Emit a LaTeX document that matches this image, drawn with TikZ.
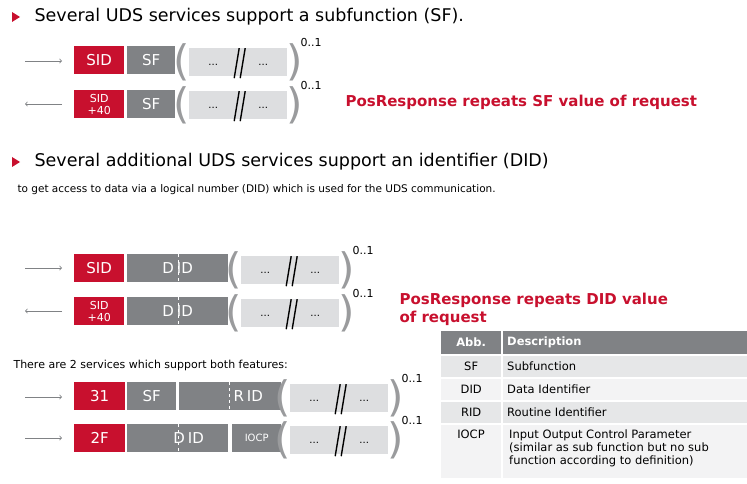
\documentclass[tikz,border=0pt]{standalone}
\usepackage{fontspec}
\setmainfont{DejaVu Sans}
\begin{document}
\definecolor{vred}{HTML}{C8102E}
\definecolor{vgrey}{HTML}{808285}
\definecolor{vlight}{HTML}{DDDEE0}
\definecolor{tgrey}{HTML}{E6E7E8}
\definecolor{tlight}{HTML}{F3F3F4}
\begin{tikzpicture}[x=1pt,y=-1pt,
 rbox/.style={fill=vred,text=white,inner sep=0,minimum height=28,font=\fontsize{15}{15}\selectfont,anchor=north west},
 gr/.style={fill=vgrey,text=white,inner sep=0,minimum height=28,font=\fontsize{15}{15}\selectfont,anchor=north west},
 lt/.style={fill=vlight,inner sep=0,minimum width=98,minimum height=28,anchor=north west},
 par/.style={font=\fontsize{42}{42}\selectfont,text=vgrey!80,inner sep=0},
 arr/.style={draw=vgrey,->,line width=0.8},
 rng/.style={font=\fontsize{11}{11}\selectfont,inner sep=0,anchor=west},
 wdash/.style={draw=white,dashed,line width=0.8},
 tcell/.style={inner sep=0,anchor=north west,minimum height=21},
 tt/.style={font=\fontsize{11.5}{13}\selectfont}]
\useasboundingbox (0,0) rectangle (747,484);
% bullets
\fill[vred] (12,12) -- (20,17) -- (12,22) -- cycle;
\node[anchor=west,font=\fontsize{17.5}{17.5}\selectfont] (h1) at (31,17) {Several UDS services support a subfunction (SF).};
\fill[vred] (12,157) -- (20,162) -- (12,167) -- cycle;
\node[anchor=west,font=\fontsize{17.5}{17.5}\selectfont] (h2) at (31,162) {Several additional UDS services support an identifier (DID)};
\node[anchor=west,font=\fontsize{10.5}{10.5}\selectfont] (h3) at (14,190) {to get access to data via a logical number (DID) which is used for the UDS communication.};
\newcommand\optpart[3]{% x, y, name
 \node[lt] (#3) at (#1,#2) {};
 \node[font=\normalsize] at ([xshift=-25,yshift=-3]#3.center) {...};
 \node[font=\normalsize] at ([xshift=25,yshift=-3]#3.center) {...};
 \draw[line width=1.4] ([xshift=1,yshift=14]#3.center) -- ([xshift=-4,yshift=-16]#3.center);
 \draw[line width=1.4] ([xshift=7,yshift=14]#3.center) -- ([xshift=2,yshift=-16]#3.center);
 \node[par,anchor=east] at ([xshift=1]#3.west) {(};
 \node[par,anchor=west] at ([xshift=-1]#3.east) {)};
 \node[rng] at ([xshift=13,yshift=6]#3.north east) {0..1};
}
% row 1
\coordinate (a1s) at (25,61); \coordinate (a1e) at (62,61);
\draw[arr] (a1s) -- (a1e);
\node[rbox,minimum width=50] (r1) at (74,46) {SID};
\node[gr,minimum width=48] (g1) at (127,46) {SF};
\optpart{189}{48}{o1}
% row 2
\coordinate (a2s) at (62,104); \coordinate (a2e) at (25,104);
\draw[arr] (a2s) -- (a2e);
\node[rbox,minimum width=50,font=\fontsize{11}{12}\selectfont,align=center] (r2) at (74,90) {SID\\+40};
\node[gr,minimum width=48] (g2) at (127,90) {SF};
\optpart{189}{91}{o2}
\node[anchor=west,text=vred,font=\bfseries\fontsize{15}{15}\selectfont] (p1) at (342,102) {PosResponse repeats SF value of request};
% row 3
\coordinate (a3s) at (25,268); \coordinate (a3e) at (62,268);
\draw[arr] (a3s) -- (a3e);
\node[rbox,minimum width=50] (r3) at (74,254) {SID};
\node[gr,minimum width=101] (g3) at (127,254) {D\hspace{3pt}ID};
\draw[wdash] (178,254) -- (178,282);
\optpart{241}{256}{o3}
% row 4
\coordinate (a4s) at (62,311); \coordinate (a4e) at (25,311);
\draw[arr] (a4s) -- (a4e);
\node[rbox,minimum width=50,font=\fontsize{11}{12}\selectfont,align=center] (r4) at (74,297) {SID\\+40};
\node[gr,minimum width=101] (g4) at (127,297) {D\hspace{3pt}ID};
\draw[wdash] (178,297) -- (178,325);
\optpart{241}{299}{o4}
\node[anchor=north west,text=vred,align=left,font=\bfseries\fontsize{15}{18}\selectfont] (p2) at (396,290) {PosResponse repeats DID value\\of request};
% both
\node[anchor=west,font=\fontsize{11}{11}\selectfont] (h4) at (10,365) {There are 2 services which support both features:};
\coordinate (a5s) at (25,397); \coordinate (a5e) at (62,397);
\draw[arr] (a5s) -- (a5e);
\node[rbox,minimum width=51] (r5) at (74,382) {31};
\node[gr,minimum width=49] (g5) at (127,382) {SF};
\node[gr,minimum width=102] (g5b) at (179,382) {\hspace{36pt}R\hspace{3pt}ID};
\draw[wdash] (229,382) -- (229,410);
\optpart{290}{384}{o5}
\coordinate (a6s) at (25,438); \coordinate (a6e) at (62,438);
\draw[arr] (a6s) -- (a6e);
\node[rbox,minimum width=51] (r6) at (74,424) {2F};
\node[gr,minimum width=101] (g6) at (127,424) {\hspace{22pt}D\hspace{3pt}ID};
\draw[wdash] (178,424) -- (178,452);
\node[gr,minimum width=49,font=\fontsize{10}{10}\selectfont] (g6b) at (232,424) {IOCP};
\optpart{290}{426}{o6}
% table
\node[tcell,fill=vgrey,minimum width=60,minimum height=23,text=white,font=\bfseries\fontsize{11.5}{12}\selectfont] (t0a) at (441,331) {Abb.};
\node[tcell,fill=vgrey,minimum width=244,minimum height=23,text=white,font=\bfseries\fontsize{11.5}{12}\selectfont,text width=236,align=left] (t0b) at (503,331) {Description};
\node[tcell,fill=tgrey,minimum width=60,tt] (t1a) at (441,356) {SF};
\node[tcell,fill=tgrey,minimum width=244,tt,text width=236,align=left] (t1b) at (503,356) {Subfunction};
\node[tcell,fill=tlight,minimum width=60,tt] (t2a) at (441,379) {DID};
\node[tcell,fill=tlight,minimum width=244,tt,text width=236,align=left] (t2b) at (503,379) {Data Identifier};
\node[tcell,fill=tgrey,minimum width=60,tt] (t3a) at (441,402) {RID};
\node[tcell,fill=tgrey,minimum width=244,tt,text width=236,align=left] (t3b) at (503,402) {Routine Identifier};
\fill[tlight] (441,425) rectangle (501,478);
\fill[tlight] (503,425) rectangle (747,478);
\node[anchor=north,tt,inner sep=0] (t4a) at (471,430) {IOCP};
\node[anchor=north west,tt,inner sep=0,align=left] (t4b) at (509,430) {Input Output Control Parameter\\(similar as sub function but no sub\\function according to definition)};
\end{tikzpicture}
\end{document}
